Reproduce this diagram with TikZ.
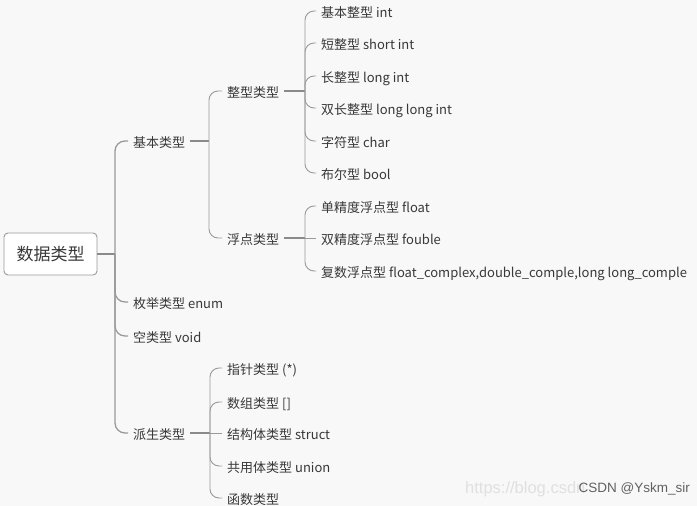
\documentclass[tikz,border=0pt]{standalone}
\usepackage{fontspec}
\setmainfont{Noto Sans CJK SC}
\newfontfamily\wmfont{Liberation Sans}
\definecolor{bgc}{HTML}{F8F8F8}
\definecolor{textc}{HTML}{383838}
\definecolor{linec}{HTML}{9A9A9A}
\definecolor{stubc}{HTML}{8A8A8A}
\begin{document}
\begin{tikzpicture}[x=1pt,y=-1pt,
  txt/.style={anchor=west, inner xsep=5pt, inner ysep=2pt, text height=13pt, text depth=0pt, font=\fontsize{13}{15}\selectfont, text=textc},
  rootbox/.style={draw=linec, fill=white, rounded corners=4pt, line width=0.9pt, minimum width=93pt, minimum height=42pt, inner sep=0pt, font=\fontsize{17}{20}\selectfont, text=textc},
  branch/.style={draw=linec, line width=0.9pt, rounded corners=9pt},
  mainbranch/.style={draw=linec, line width=1.3pt, rounded corners=10pt},
  stub/.style={draw=stubc, line width=1.4pt}
]
\fill[bgc] (0,0) rectangle (697,506);
\useasboundingbox (0,0) rectangle (697,506);

% root
\node[rootbox] (root) at (50.5,254) {数据类型};
\coordinate (j0) at (115,254);
\draw[stub] (root.east) -- (j0);

% level 1
\node[txt] (basic) at (128,141) {基本类型};
\node[txt] (enum)  at (128,302) {枚举类型 enum};
\node[txt] (void)  at (128,336) {空类型 void};
\node[txt] (deriv) at (128,433) {派生类型};
\foreach \n in {basic,enum,void,deriv} \draw[mainbranch] (j0) |- (\n.west);

% basic types
\coordinate (j1) at (209,141);
\draw[stub] (basic.east) -- (j1);
\node[txt] (intt) at (222,91) {整型类型};
\node[txt] (fltt) at (222,238) {浮点类型};
\foreach \n in {intt,fltt} \draw[branch] (j1) |- (\n.west);

% integer types
\coordinate (j2) at (305,91);
\draw[stub] (intt.east) -- (j2);
\node[txt] (i1) at (316,11)  {基本整型 int};
\node[txt] (i2) at (316,43)  {短整型 short int};
\node[txt] (i3) at (316,76)  {长整型 long int};
\node[txt] (i4) at (316,108) {双长整型 long long int};
\node[txt] (i5) at (316,141) {字符型 char};
\node[txt] (i6) at (316,173) {布尔型 bool};
\foreach \n in {i1,i2,i3,i4,i5,i6} \draw[branch] (j2) |- (\n.west);

% float types
\coordinate (j3) at (305,238);
\draw[stub] (fltt.east) -- (j3);
\node[txt] (f1) at (316,206) {单精度浮点型 float};
\node[txt] (f2) at (316,238) {双精度浮点型 fouble};
\node[txt] (f3) at (316,271) {复数浮点型 float\_complex,double\_comple,long long\_comple};
\draw[branch] (j3) |- (f1.west);
\draw[branch] (j3) -- (f2.west);
\draw[branch] (j3) |- (f3.west);

% derived types
\coordinate (j4) at (210,433);
\draw[stub] (deriv.east) -- (j4);
\node[txt] (d1) at (222,368) {指针类型 (*)};
\node[txt] (d2) at (222,402) {数组类型 []};
\node[txt] (d3) at (222,433) {结构体类型 struct};
\node[txt] (d4) at (222,466) {共用体类型 union};
\node[txt] (d5) at (222,498) {函数类型};
\draw[branch] (j4) |- (d1.west);
\draw[branch] (j4) |- (d2.west);
\draw[branch] (j4) -- (d3.west);
\draw[branch] (j4) |- (d4.west);
\draw[branch] (j4) |- (d5.west);

% watermark
\node[anchor=west, inner sep=0pt, font=\wmfont\fontsize{16.5}{18}\selectfont, text=black!12] (url) at (465,489) {https://blog.csdn};
\node[anchor=east, inner sep=0pt, font=\wmfont\fontsize{13.5}{15}\selectfont, text=black!62] (wm) at (690,489) {CSDN @Yskm\_sir};
\end{tikzpicture}
\end{document}
